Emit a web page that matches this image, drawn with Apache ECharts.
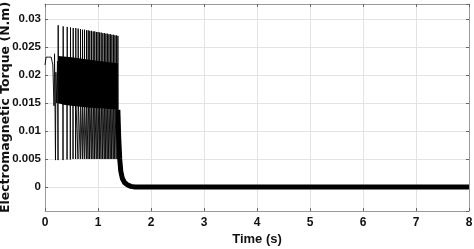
<!DOCTYPE html>
<html><head><meta charset="utf-8">
<script src="https://cdn.jsdelivr.net/npm/echarts@6/dist/echarts.min.js"></script>
<style>html,body{margin:0;padding:0;background:#fff}#c{width:474px;height:249px}</style>
</head><body><div id="c"></div>
<script>
// Tick labels
const xTicks = [0,1,2,3,4,5,6,7,8];
// Start-up transient (time s, torque N.m)
const startT = [0, 0.02, 0.066, 0.117, 0.147, 0.170, 0.180, 0.198, 0.205, 0.220, 0.235];
const startV = [0.0218, 0.0232, 0.0232, 0.0232, 0.0218, 0.0145, 0.0238, 0.0048, 0.0205, 0.0150, 0.0225];
// Spike times, peaks and troughs
const spikeT = [0.249,0.343,0.419,0.481,0.532,0.581,0.626,0.670,0.708,0.745,0.783,0.815,0.845,0.877,0.909,0.939,0.970,1.000,1.030,1.060,1.091,1.121,1.149,1.177,1.206,1.234,1.262,1.291,1.319,1.347,1.375];
const peakV = [0.0289,0.0287,0.0286,0.0285,0.0284,0.0284,0.0283,0.0282,0.0281,0.0281,0.0280,0.0280,0.0279,0.0279,0.0278,0.0278,0.0277,0.0277,0.0276,0.0276,0.0275,0.0275,0.0274,0.0274,0.0273,0.0273,0.0272,0.0272,0.0271,0.0271,0.0270];
const troughV = [0.0048,0.0048,0.0049,0.0049,0.0050,0.0050,0.0050,0.0050,0.0050,0.0050,0.0050,0.0050,0.0050,0.0050,0.0050,0.0050,0.0050,0.0050,0.0050,0.0050,0.0050,0.0050,0.0050,0.0050,0.0050,0.0050,0.0050,0.0050,0.0050,0.0050,0.0050];
const restV = [0.0150,0.0150,0.0150,0.0148,0.0148,0.0147,0.0146,0.0146,0.0145,0.0145,0.0144,0.0144,0.0143,0.0143,0.0142,0.0142,0.0142,0.0141,0.0141,0.0141,0.0140,0.0140,0.0140,0.0139,0.0139,0.0139,0.0139,0.0138,0.0138,0.0138,0.0138];
// Dense oscillation envelope
const bandT = [0.25, 0.35, 0.50, 0.80, 1.10, 1.375];
const bandHi = [0.0234, 0.0233, 0.0232, 0.0228, 0.0224, 0.0221];
const bandLo = [0.0150, 0.0147, 0.0145, 0.0142, 0.0140, 0.0138];
// Decay and steady state
const tailT = [1.375, 1.39, 1.41, 1.43, 1.46, 1.50, 1.55, 1.62, 1.70, 8];
const tailV = [0.0138, 0.0090, 0.0050, 0.0028, 0.0015, 0.0008, 0.0004, 0.0001, 0, 0];

const spikeData = startT.map((t,i)=>[t,startV[i]]);
spikeT.forEach((t,i)=>{
  spikeData.push([t-0.003, troughV[i]]);
  spikeData.push([t, peakV[i]]);
  spikeData.push([t+0.004, restV[i]]);
  if (i < spikeT.length-1) spikeData.push([spikeT[i+1]-0.005, restV[i]]);
});
const tailData = tailT.map((t,i)=>[t,tailV[i]]);

const font = 'Liberation Sans, Arial, sans-serif';
const titleFont = 'DejaVu Sans, sans-serif';
const chart = echarts.init(document.getElementById('c'));
chart.setOption({
  animation:false,
  grid:{left:45,right:5,top:4,bottom:38,containLabel:false,outerBoundsMode:'none'},
  xAxis:[{type:'value',min:0,max:8,interval:1,
    name:'Time (s)',nameLocation:'middle',nameGap:22,nameMoveOverlap:false,
    nameTextStyle:{fontFamily:font,fontWeight:'bold',fontSize:13,color:'#111'},
    axisLine:{onZero:false,lineStyle:{color:'#999'}},
    axisTick:{inside:true,length:3,lineStyle:{color:'#666'}},
    axisLabel:{fontFamily:font,fontWeight:'bold',fontSize:12,color:'#111',margin:6,
      formatter:v=>xTicks.includes(v)?String(v):''},
    splitLine:{lineStyle:{color:'#e3e3e3'}}},
   {type:'value',position:'top',min:0,max:8,interval:1,
    axisLine:{onZero:false,lineStyle:{color:'#999'}},axisTick:{inside:true,length:3,lineStyle:{color:'#666'}},
    axisLabel:{show:false},splitLine:{show:false}}],
  yAxis:[{type:'value',min:-0.0043,max:0.0327,splitNumber:8,minInterval:0.005,maxInterval:0.005,
    name:'Electromagnetic Torque (N.m)',nameLocation:'middle',nameGap:33,nameMoveOverlap:false,
    nameTextStyle:{fontFamily:titleFont,fontWeight:'bold',fontSize:12.5,color:'#111'},
    axisLine:{show:true,onZero:false,lineStyle:{color:'#999'}},
    axisTick:{show:true,inside:true,length:3,lineStyle:{color:'#666'}},
    axisLabel:{fontFamily:font,fontWeight:'bold',fontSize:11.5,color:'#111',margin:4,
      showMinLabel:false,showMaxLabel:false,
      formatter:v=>String(Math.round(v*1000)/1000)},
    splitLine:{lineStyle:{color:'#e3e3e3'}}},
   {type:'value',position:'right',min:-0.0043,max:0.0327,splitNumber:8,minInterval:0.005,maxInterval:0.005,
    axisLine:{show:true,onZero:false,lineStyle:{color:'#999'}},
    axisTick:{show:true,inside:true,length:3,lineStyle:{color:'#666'}},
    axisLabel:{show:false},splitLine:{show:false}}],
  series:[
    {type:'custom',clip:true,data:[[bandT[0],bandHi[0]]],
     renderItem:(params,api)=>{
       const pts = bandT.map((t,i)=>api.coord([t,bandHi[i]]))
         .concat(bandT.map((t,i)=>api.coord([t,bandLo[i]])).reverse());
       return {type:'polygon',shape:{points:pts},style:{fill:'#000'}};
     }},
    {type:'line',data:spikeData,showSymbol:false,lineStyle:{color:'#000',width:0.9}},
    {type:'line',data:tailData,showSymbol:false,lineStyle:{color:'#000',width:5},smooth:false}
  ]
});
</script></body></html>
